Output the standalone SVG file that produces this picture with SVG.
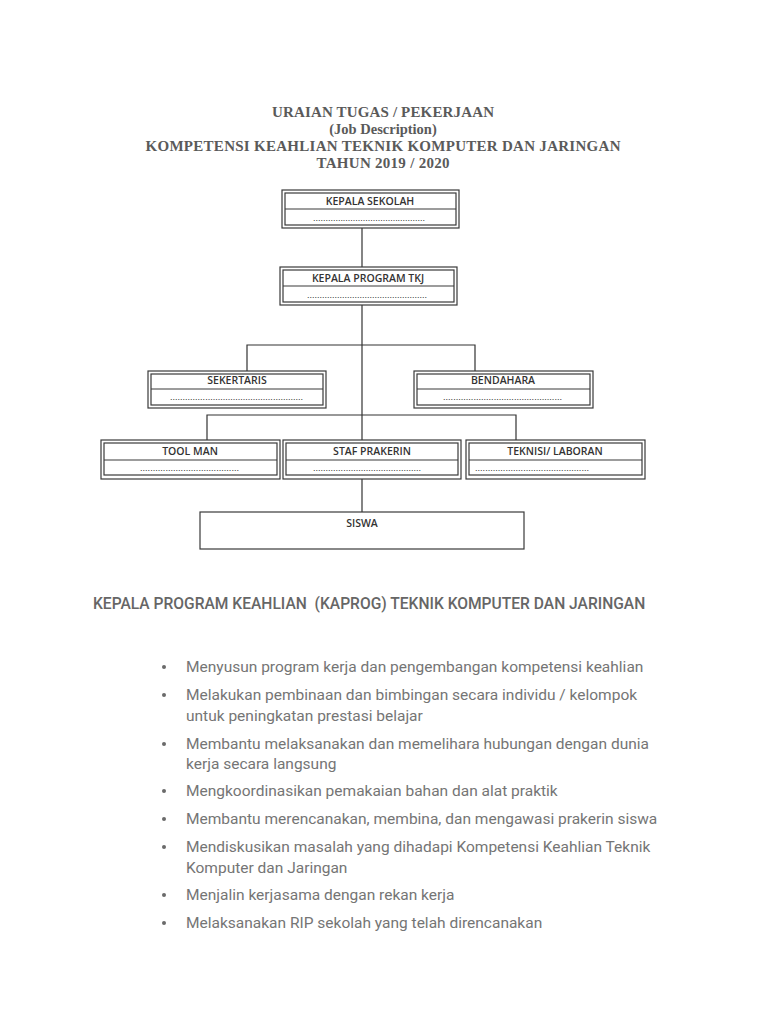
<svg xmlns="http://www.w3.org/2000/svg" width="768" height="1024" viewBox="0 0 768 1024">
<style>
.t{font-family:"Liberation Serif",serif;font-weight:bold;fill:#5a5a5a;text-anchor:middle}
.box{fill:#fff;stroke:#3a3a3a;stroke-width:1.2}
.in{fill:none;stroke:#3a3a3a;stroke-width:1.2}
.lbl{font-family:"Open Sans","Liberation Sans",sans-serif;font-size:10.5px;font-weight:600;fill:#333;text-anchor:middle}
.dots{font-family:"Liberation Sans",sans-serif;font-size:8.5px;fill:#333}
.con{fill:none;stroke:#333;stroke-width:1.2}
.h{font-family:Roboto,sans-serif;font-weight:500;font-size:15.6px;fill:#666;white-space:pre}
.b{font-family:Roboto,sans-serif;font-size:15.5px;fill:#757575}
.bul{fill:#6a6a6a}
</style>
<rect width="768" height="1024" fill="#fff"/>
<g id="title">
<text class="t" x="383" y="117" font-size="15" textLength="222" lengthAdjust="spacing">URAIAN TUGAS / PEKERJAAN</text>
<text class="t" x="383" y="134" font-size="14.5">(Job Description)</text>
<text class="t" x="383" y="151" font-size="15" textLength="475" lengthAdjust="spacing">KOMPETENSI KEAHLIAN TEKNIK KOMPUTER DAN JARINGAN</text>
<text class="t" x="383" y="168" font-size="15" textLength="133" lengthAdjust="spacing">TAHUN 2019 / 2020</text>
</g>
<g id="connectors">
<line class="con" x1="362" y1="228" x2="362" y2="267"/>
<line class="con" x1="362" y1="305" x2="362" y2="440"/>
<polyline class="con" points="247,371 247,345 475,345 475,371"/>
<polyline class="con" points="207,440 207,415 516,415 516,440"/>
<line class="con" x1="362" y1="479" x2="362" y2="512"/>
</g>
<g id="kepala-sekolah">
<rect class="box" x="282" y="190" width="177" height="38"/>
<rect class="in" x="285" y="193" width="171" height="32"/>
<line class="in" x1="285" y1="209" x2="456" y2="209"/>
<text class="lbl" x="370" y="205">KEPALA SEKOLAH</text>
<text class="dots" x="313" y="221" textLength="112" lengthAdjust="spacingAndGlyphs">.............................................</text>
</g>
<g id="kepala-program">
<rect class="box" x="280" y="267" width="177" height="38"/>
<rect class="in" x="283" y="270" width="171" height="32"/>
<line class="in" x1="283" y1="286" x2="454" y2="286"/>
<text class="lbl" x="368" y="282">KEPALA PROGRAM TKJ</text>
<text class="dots" x="307" y="298" textLength="120" lengthAdjust="spacingAndGlyphs">................................................</text>
</g>
<g id="sekertaris">
<rect class="box" x="148" y="371" width="178" height="37"/>
<rect class="in" x="151" y="374" width="172" height="31"/>
<line class="in" x1="151" y1="389" x2="323" y2="389"/>
<text class="lbl" x="237" y="384">SEKERTARIS</text>
<text class="dots" x="170" y="400" textLength="133" lengthAdjust="spacingAndGlyphs">.....................................................</text>
</g>
<g id="bendahara">
<rect class="box" x="414" y="371" width="179" height="37"/>
<rect class="in" x="417" y="374" width="173" height="31"/>
<line class="in" x1="417" y1="389" x2="590" y2="389"/>
<text class="lbl" x="503" y="384">BENDAHARA</text>
<text class="dots" x="443" y="400" textLength="119" lengthAdjust="spacingAndGlyphs">...............................................</text>
</g>
<g id="tool-man">
<rect class="box" x="101" y="440" width="179" height="39"/>
<rect class="in" x="104" y="443" width="173" height="32"/>
<line class="in" x1="104" y1="460" x2="277" y2="460"/>
<text class="lbl" x="190" y="455">TOOL MAN</text>
<text class="dots" x="140" y="471" textLength="99" lengthAdjust="spacingAndGlyphs">.......................................</text>
</g>
<g id="staf-prakerin">
<rect class="box" x="283" y="440" width="178" height="39"/>
<rect class="in" x="286" y="443" width="172" height="32"/>
<line class="in" x1="286" y1="460" x2="458" y2="460"/>
<text class="lbl" x="372" y="455">STAF PRAKERIN</text>
<text class="dots" x="313" y="471" textLength="108" lengthAdjust="spacingAndGlyphs">...........................................</text>
</g>
<g id="teknisi">
<rect class="box" x="466" y="440" width="179" height="39"/>
<rect class="in" x="469" y="443" width="173" height="32"/>
<line class="in" x1="469" y1="460" x2="642" y2="460"/>
<text class="lbl" x="555" y="455">TEKNISI/ LABORAN</text>
<text class="dots" x="475" y="471" textLength="114" lengthAdjust="spacingAndGlyphs">.............................................</text>
</g>
<g id="siswa">
<rect class="box" x="200" y="512" width="324" height="37"/>
<text class="lbl" x="362" y="527">SISWA</text>
</g>
<g id="description">
<text class="h" x="93" y="609">KEPALA PROGRAM KEAHLIAN  (KAPROG) TEKNIK KOMPUTER DAN JARINGAN</text>
<circle class="bul" cx="164" cy="667" r="2"/>
<text class="b" x="186" y="672">Menyusun program kerja dan pengembangan kompetensi keahlian</text>
<circle class="bul" cx="164" cy="695" r="2"/>
<text class="b" x="186" y="700">Melakukan pembinaan dan bimbingan secara individu / kelompok</text>
<text class="b" x="186" y="721">untuk peningkatan prestasi belajar</text>
<circle class="bul" cx="164" cy="744" r="2"/>
<text class="b" x="186" y="749">Membantu melaksanakan dan memelihara hubungan dengan dunia</text>
<text class="b" x="186" y="769">kerja secara langsung</text>
<circle class="bul" cx="164" cy="791" r="2"/>
<text class="b" x="186" y="796">Mengkoordinasikan pemakaian bahan dan alat praktik</text>
<circle class="bul" cx="164" cy="819" r="2"/>
<text class="b" x="186" y="824">Membantu merencanakan, membina, dan mengawasi prakerin siswa</text>
<circle class="bul" cx="164" cy="847" r="2"/>
<text class="b" x="186" y="852">Mendiskusikan masalah yang dihadapi Kompetensi Keahlian Teknik</text>
<text class="b" x="186" y="873">Komputer dan Jaringan</text>
<circle class="bul" cx="164" cy="895" r="2"/>
<text class="b" x="186" y="900">Menjalin kerjasama dengan rekan kerja</text>
<circle class="bul" cx="164" cy="923" r="2"/>
<text class="b" x="186" y="928">Melaksanakan RIP sekolah yang telah direncanakan</text>
</g>
</svg>
